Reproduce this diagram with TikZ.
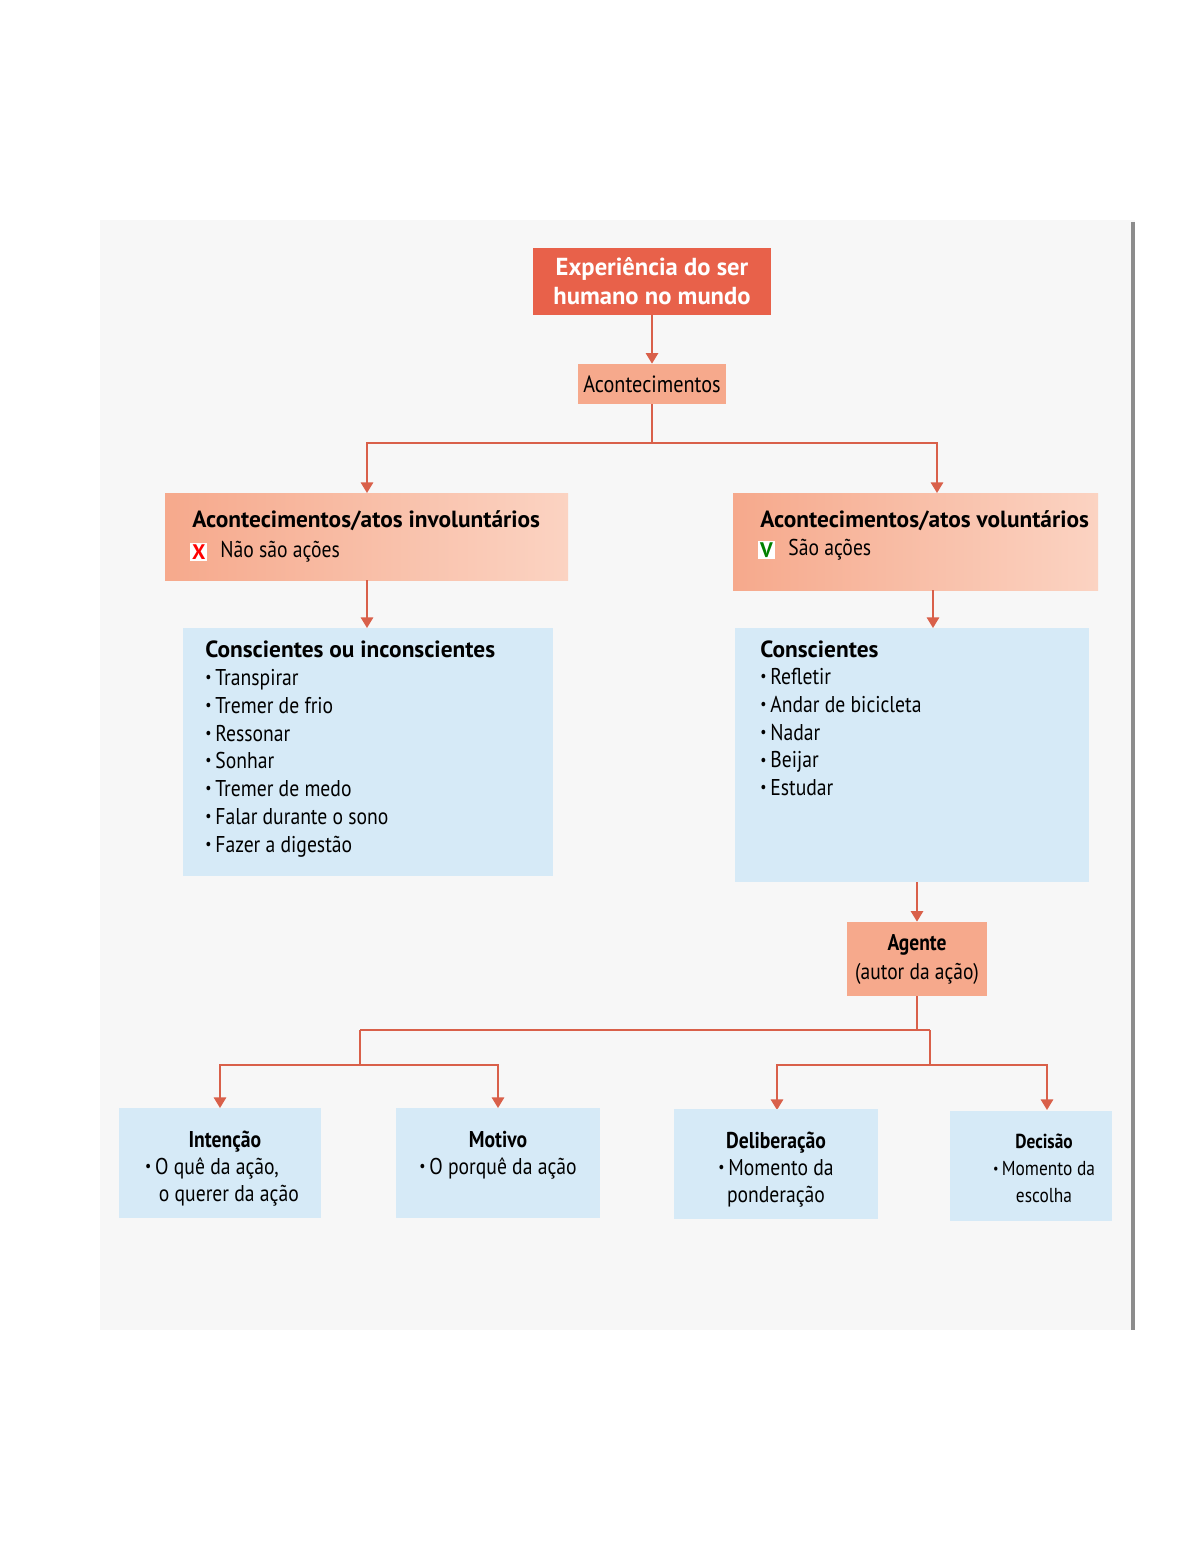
\documentclass[tikz,border=0pt]{standalone}
\usepackage{fontspec}
\setmainfont{PT Sans}[FakeStretch=0.86]
\newfontfamily\hdfont{PT Sans}
\usetikzlibrary{arrows.meta}
\definecolor{redbox}{HTML}{E8614A}
\definecolor{salmon}{HTML}{F6A98C}
\definecolor{salmonl}{HTML}{FBD3C2}
\definecolor{bluebox}{HTML}{D6EAF7}
\definecolor{line}{HTML}{D9604A}
\newcommand{\bul}{\raisebox{0.25ex}{\scalebox{0.7}{•}}\,}
\begin{document}
\begin{tikzpicture}[x=0.02cm,y=-0.02cm,
  conn/.style={line, line width=1pt},
  arr/.style={conn,-{Triangle[length=6pt,width=7pt]}},
  txt/.style={font=\fontsize{13}{15.8}\selectfont, align=left, anchor=north west, inner sep=0pt},
  hd/.style={font=\hdfont\bfseries\fontsize{13.3}{15}\selectfont, anchor=north west, inner sep=0pt},
  bt/.style={font=\fontsize{13}{15.3}\selectfont, anchor=north}]
\useasboundingbox (0,0) rectangle (1200,1553);
\fill[white] (0,0) rectangle (1200,1553);
\fill[black!3] (100,220) rectangle (1135,1330);
\draw[black!45, line width=2pt] (1133,222) -- (1133,1330);
% top
\node[fill=redbox, minimum width=4.78cm, minimum height=1.34cm, text=white, font=\hdfont\bfseries\fontsize{14}{16.5}\selectfont, align=center] (top) at (652,281) {Experiência do ser\\humano no mundo};
\node[fill=salmon, minimum width=2.98cm, minimum height=0.8cm, font=\fontsize{13.4}{15}\selectfont] (ac) at (652,384) {Acontecimentos};
\draw[arr] (top.south) -- (ac.north);
% second level
\path[left color=salmon, right color=salmonl] (165,493) rectangle (568,580);
\node[minimum width=8.06cm, minimum height=1.74cm] (inv) at (366,536) {};
\node[hd] at (192,510) {Acontecimentos/atos involuntários};
\node[fill=white, inner sep=1pt, text=red, font=\hdfont\bfseries\fontsize{12}{14}\selectfont, anchor=west] (xm) at (190,552) {X};
\node[txt, anchor=west] at (220,552) {Não são ações};
\path[left color=salmon, right color=salmonl] (733,493) rectangle (1098,590);
\node[minimum width=7.3cm, minimum height=1.94cm] (vol) at (915,541) {};
\node[hd] at (760,510) {Acontecimentos/atos voluntários};
\node[fill=white, inner sep=1pt, text=green!50!black, font=\hdfont\bfseries\fontsize{12}{14}\selectfont, anchor=west] (vm) at (758,550) {V};
\node[txt, anchor=west] at (788,550) {São ações};
\coordinate (j1) at (652,443);
\draw[conn] (ac.south) -- (j1);
\draw[arr] (j1) -| (367,493);
\draw[arr] (j1) -| (937,493);
% blue boxes
\node[fill=bluebox, minimum width=7.4cm, minimum height=4.98cm] (cl) at (368,752) {};
\node[hd] at (205,640) {Conscientes ou inconscientes};
\node[txt] at (205,669) {\bul Transpirar\\\bul Tremer de frio\\\bul Ressonar\\\bul Sonhar\\\bul Tremer de medo\\\bul Falar durante o sono\\\bul Fazer a digestão};
\node[fill=bluebox, minimum width=7.1cm, minimum height=5.08cm] (cr) at (912,755) {};
\node[hd] at (760,640) {Conscientes};
\node[txt] at (760,668) {\bul Refletir\\\bul Andar de bicicleta\\\bul Nadar\\\bul Beijar\\\bul Estudar};
\draw[arr] (367,580) -- (367,628);
\draw[arr] (933,590) -- (933,628);
% agente
\node[fill=salmon, minimum width=2.82cm, minimum height=1.48cm, align=center, font=\fontsize{12.9}{16.5}\selectfont] (ag) at (917,959) {\textbf{Agente}\\(autor da ação)};
\draw[arr] (917,882) -- (ag.north);
\coordinate (j2) at (917,1030);
\draw[conn] (ag.south) -- (j2);
\draw[conn] (360,1030) -- (930,1030);
\draw[conn] (360,1030) -- (360,1065);
\draw[conn] (930,1030) -- (930,1065);
\draw[arr] (360,1065) -| (220,1108);
\draw[arr] (360,1065) -| (498,1108);
\draw[arr] (930,1065) -| (777,1110);
\draw[arr] (930,1065) -| (1047,1110);
% bottom boxes
\tikzset{bb/.style={fill=bluebox, minimum height=2.2cm}}
\node[bb, minimum width=4.06cm] (in) at (220,1163) {};
\node[bt, align=left] at (222,1125) {\hspace*{1.9em}\textbf{Intenção}\\\bul O quê da ação,\\\hspace*{0.6em}o querer da ação};
\node[bb, minimum width=4.1cm] (mo) at (498,1163) {};
\node[bt, align=center] at (498,1125) {\textbf{Motivo}\\\bul O porquê da ação};
\node[bb, minimum width=4.1cm] (de) at (776,1164) {};
\node[bt, align=center] at (776,1126) {\textbf{Deliberação}\\\bul Momento da\\ponderação};
\node[bb, minimum width=3.24cm] (dc) at (1031,1166) {};
\node[bt, align=center, font=\fontsize{11.5}{15.3}\selectfont] at (1044,1128) {\textbf{Decisão}\\\bul Momento da\\escolha};
\end{tikzpicture}
\end{document}
